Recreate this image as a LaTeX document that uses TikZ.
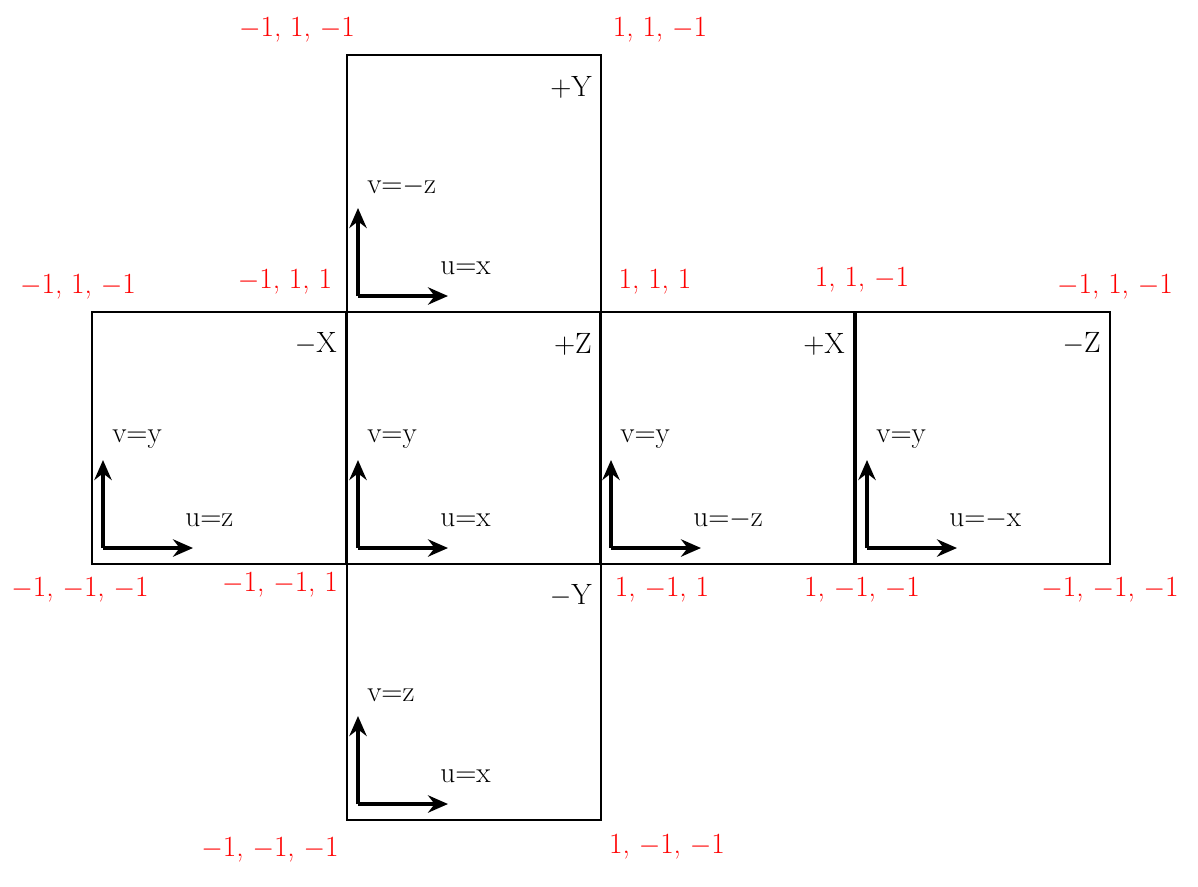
\documentclass[tikz,border=0pt]{standalone}
\usetikzlibrary{arrows.meta}
\begin{document}
\begin{tikzpicture}[x=0.75pt,y=-0.75pt,
  face/.style={draw,line width=1.6pt},
  ax/.style={line width=3pt,-{Stealth[length=15pt,width=13pt,inset=5pt]}},
  lab/.style={font=\fontsize{22}{26}\selectfont,inner sep=0pt},
  red/.style={lab,text=red}]
\useasboundingbox (0,0) rectangle (1198,886);
% faces: x0, ytop, height, name, face label, u label, v label
\foreach \x/\y/\h/\n/\f/\u/\v in {347/55/257/py/+Y/u=x/v=$-$z, 92/312/252/mx/$-$X/u=z/v=y, 347/312/252/pz/+Z/u=x/v=y, 600/312/252/px/+X/u=$-$z/v=y, 856/312/252/mz/$-$Z/u=$-$x/v=y, 347/564/256/my/$-$Y/u=x/v=z}{
  \draw[face] (\x,\y) rectangle ++(254,\h);
  \coordinate (o\n) at (\x+11,\y+\h-16);
  \coordinate (u\n) at (\x+101,\y+\h-16);
  \coordinate (v\n) at (\x+11,\y+\h-104);
  \draw[ax] (o\n) -- (u\n);
  \draw[ax] (o\n) -- (v\n);
  \node[lab,anchor=west] (lv\n) at (\x+20,\y+\h-125) {\v};
  \node[lab,anchor=west] (lu\n) at (\x+93,\y+\h-44) {\u};
  \node[lab,anchor=east] (lf\n) at (\x+245,\y+32) {\f};
}
\node[red] (c1) at (297,30) {$-$1, 1, $-$1};
\node[red] (c2) at (660,30) {1, 1, $-$1};
\node[red] (c3) at (78,287) {$-$1, 1, $-$1};
\node[red] (c4) at (285,282) {$-$1, 1, 1};
\node[red] (c5) at (655,282) {1, 1, 1};
\node[red] (c6) at (862,280) {1, 1, $-$1};
\node[red] (c7) at (1115,287) {$-$1, 1, $-$1};
\node[red] (c8) at (80,590) {$-$1, $-$1, $-$1};
\node[red] (c9) at (280,585) {$-$1, $-$1, 1};
\node[red] (c10) at (662,590) {1, $-$1, 1};
\node[red] (c11) at (862,590) {1, $-$1, $-$1};
\node[red] (c12) at (1110,590) {$-$1, $-$1, $-$1};
\node[red] (c13) at (270,850) {$-$1, $-$1, $-$1};
\node[red] (c14) at (667,847) {1, $-$1, $-$1};
\end{tikzpicture}
\end{document}
